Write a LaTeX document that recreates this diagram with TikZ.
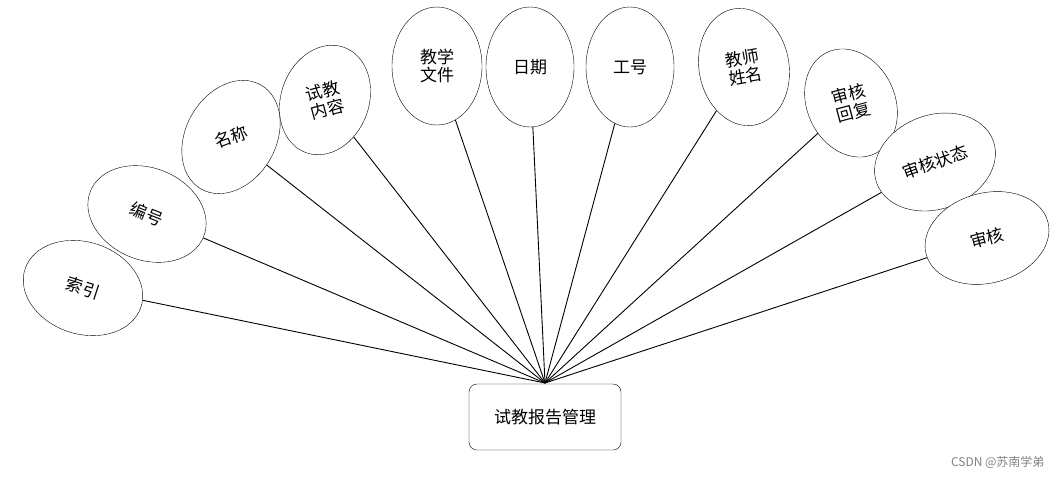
\documentclass[tikz,border=0pt]{standalone}
\usepackage{fontspec}
\setmainfont{Noto Sans CJK SC}
\usetikzlibrary{shapes.geometric}
\begin{document}
\begin{tikzpicture}[x=1pt,y=-1pt,
  attr/.style={draw,ellipse,inner sep=0pt,font=\fontsize{17}{21}\selectfont,align=center,fill=white},
  link/.style={draw,line width=0.9pt}]
\useasboundingbox (0,0) rectangle (1060,480);
\node[draw,rounded corners=8pt,minimum width=152pt,minimum height=66pt,font=\fontsize{17}{21}\selectfont] (m) at (545,417) {试教报告管理};
\coordinate (h) at (545,383);
\node[attr,minimum width=122pt,minimum height=92pt,rotate=-18] (a1) at (83,288) {索引};
\node[attr,minimum width=122pt,minimum height=92pt,rotate=-22] (a2) at (147,214) {编号};
\node[attr,minimum width=120pt,minimum height=90pt,rotate=60] (a3) at (231,137) {\rotatebox{-40}{名称}};
\node[attr,minimum width=112pt,minimum height=88pt,rotate=70] (a4) at (325,100) {\rotatebox{-55}{\shortstack{试教\\内容}}};
\node[attr,minimum width=118pt,minimum height=90pt,rotate=90] (a5) at (437,66) {\rotatebox{-90}{\shortstack{教学\\文件}}};
\node[attr,minimum width=120pt,minimum height=88pt,rotate=90] (a6) at (530,67) {\rotatebox{-90}{日期}};
\node[attr,minimum width=120pt,minimum height=88pt,rotate=90] (a7) at (630,67) {\rotatebox{-90}{工号}};
\node[attr,minimum width=118pt,minimum height=90pt,rotate=100] (a8) at (744,67) {\rotatebox{-90}{\shortstack{教师\\姓名}}};
\node[attr,minimum width=112pt,minimum height=88pt,rotate=115] (a9) at (851,103) {\rotatebox{-100}{\shortstack{审核\\回复}}};
\node[attr,minimum width=124pt,minimum height=94pt,rotate=20] (a10) at (935,162) {审核状态};
\node[attr,minimum width=126pt,minimum height=90pt,rotate=15] (a11) at (987,238) {审核};
\foreach \i in {1,...,11} \draw[link] (h) -- (a\i);
\node[font=\fontsize{12}{14}\selectfont,text=gray,anchor=east] (w) at (1048,462) {CSDN @苏南学弟};
\end{tikzpicture}
\end{document}
